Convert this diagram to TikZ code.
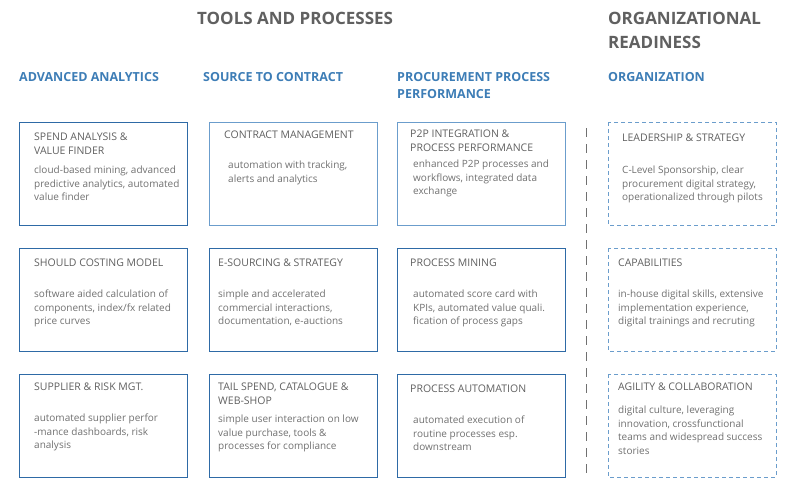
\documentclass[tikz,border=0pt]{standalone}
\usepackage{fontspec}
\setmainfont{Open Sans}
\usetikzlibrary{positioning}
\definecolor{HeadBlue}{HTML}{3D7DB6}
\definecolor{BoxBlue}{HTML}{2E6AA6}
\definecolor{BoxLight}{HTML}{6B9DCC}
\definecolor{TextGray}{HTML}{707070}
\definecolor{TitleGray}{HTML}{606060}
\tikzset{
  card/.style={draw=BoxBlue, line width=1pt},
  lightcard/.style={draw=BoxLight, line width=1pt},
  orgcard/.style={draw=BoxLight, line width=1pt, dash pattern=on 4pt off 3pt},
  cardtitle/.style={anchor=north west, inner sep=0pt, text=TitleGray, align=left,
    font=\fontsize{10.5}{14}\selectfont, yshift=-3pt},
  cardbody/.style={anchor=north west, inner sep=0pt, text=TextGray, align=left,
    font=\fontsize{10}{13.5}\selectfont},
  colhead/.style={anchor=north west, inner sep=0pt, text=HeadBlue, font=\bfseries\fontsize{12.5}{17}\selectfont, align=left},
  bighead/.style={anchor=north west, inner sep=0pt, text=TitleGray, font=\bfseries\fontsize{17}{23.5}\selectfont, align=left}
}
\begin{document}
\begin{tikzpicture}[x=1pt, y=-1pt]
\useasboundingbox (0,0) rectangle (800,499);
% headings
\node[bighead] (tools) at (197,12) {TOOLS AND PROCESSES};
\node[bighead] (orgready) at (608,12) {ORGANIZATIONAL\\READINESS};
\node[colhead] (hanalytics) at (19,72) {ADVANCED ANALYTICS};
\node[colhead] (hsource) at (203,72) {SOURCE TO CONTRACT};
\node[colhead] (hprocure) at (397,72) {PROCUREMENT PROCESS\\PERFORMANCE};
\node[colhead] (horg) at (608,72) {ORGANIZATION};

% separator
\draw[TextGray, line width=0.8pt, dash pattern=on 9pt off 7pt] (586,128) coordinate (septop) -- (586,478) coordinate (sepbot);

% column 1
\draw[card] (19,122) rectangle (187,225);
\node[cardtitle] (spend) at (34,130) {SPEND ANALYSIS \&\\VALUE FINDER};
\node[cardbody] (spendtxt) at (34,166) {cloud-based mining, advanced\\predictive analytics, automated\\value finder};
\draw[card] (19,248) rectangle (187,351);
\node[cardtitle] (costing) at (34,256) {SHOULD COSTING MODEL};
\node[cardbody] (costingtxt) at (34,290) {software aided calculation of\\components, index/fx related\\price curves};
\draw[card] (19,374) rectangle (187,477);
\node[cardtitle] (supplier) at (34,380) {SUPPLIER \& RISK MGT.};
\node[cardbody] (suppliertxt) at (34,414) {automated supplier perfor\\-mance dashboards, risk\\analysis};

% column 2
\draw[lightcard] (209,122) rectangle (377,225);
\node[cardtitle] (contract) at (224,128) {CONTRACT MANAGEMENT};
\node[cardbody] (contracttxt) at (228,161) {automation with tracking,\\alerts and analytics};
\draw[card] (209,248) rectangle (377,351);
\node[cardtitle] (esourcing) at (218,256) {E-SOURCING \& STRATEGY};
\node[cardbody] (esourcingtxt) at (218,290) {simple and accelerated\\commercial interactions,\\documentation, e-auctions};
\draw[card] (209,374) rectangle (377,477);
\node[cardtitle] (tail) at (218,380) {TAIL SPEND, CATALOGUE \&\\WEB-SHOP};
\node[cardbody] (tailtxt) at (218,415) {simple user interaction on low\\value purchase, tools \&\\processes for compliance};

% column 3
\draw[lightcard] (397,122) rectangle (565,225);
\node[cardtitle] (ptp) at (410,127) {P2P INTEGRATION \&\\PROCESS PERFORMANCE};
\node[cardbody] (ptptxt) at (413,160) {enhanced P2P processes and\\workflows, integrated data\\exchange};
\draw[card] (397,248) rectangle (565,351);
\node[cardtitle] (mining) at (410,256) {PROCESS MINING};
\node[cardbody] (miningtxt) at (413,290) {automated score card with\\KPIs, automated value quali.\\fication of process gaps};
\draw[card] (397,374) rectangle (565,477);
\node[cardtitle] (automation) at (410,382) {PROCESS AUTOMATION};
\node[cardbody] (automationtxt) at (413,416) {automated execution of\\routine processes esp.\\downstream};

% column 4
\draw[orgcard] (608,122) rectangle (776,225);
\node[cardtitle] (leader) at (622,131) {LEADERSHIP \& STRATEGY};
\node[cardbody] (leadertxt) at (622,166) {C-Level Sponsorship, clear\\procurement digital strategy,\\operationalized through pilots};
\draw[orgcard] (608,248) rectangle (776,351);
\node[cardtitle] (capab) at (618,256) {CAPABILITIES};
\node[cardbody] (capabtxt) at (618,290) {in-house digital skills, extensive\\implementation experience,\\digital trainings and recruting};
\draw[orgcard] (608,374) rectangle (776,477);
\node[cardtitle] (agility) at (618,380) {AGILITY \& COLLABORATION};
\node[cardbody] (agilitytxt) at (618,406) {digital culture, leveraging\\innovation, crossfunctional\\teams and widespread success\\stories};
\end{tikzpicture}
\end{document}
